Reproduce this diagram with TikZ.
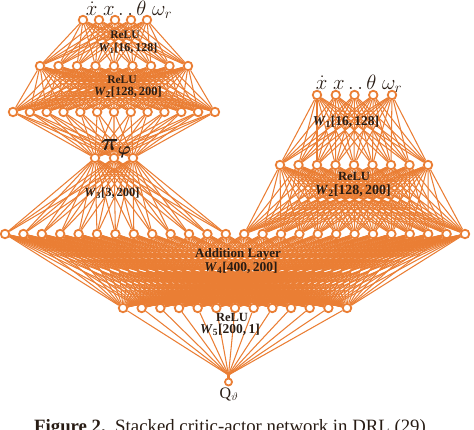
\documentclass[tikz,border=0pt]{standalone}
\usepackage{fontspec}
\setmainfont{Liberation Serif}
\usepackage{amsmath,bm}
\usetikzlibrary{backgrounds}
\definecolor{net}{RGB}{234,126,52}
\definecolor{ink}{RGB}{40,28,20}
\tikzset{
  neuron/.style={circle, draw=net, fill=white, line width=1.8pt, inner sep=0pt, minimum size=8.5pt},
  link/.style={draw=net, line width=1.05pt},
  lbl/.style={text=ink, inner sep=0pt},
}
\newcommand{\fs}[1]{\fontsize{#1}{#1}\selectfont}
\newcommand{\Wlab}[2]{\textbf{\textit{W}}$_{\mathbf{#1}}$\textbf{[#2]}}
\begin{document}
\begin{tikzpicture}[x=1pt,y=-1pt]
\useasboundingbox (0,0) rectangle (474,430);
% layers
\foreach \i in {1,...,5}  \node[neuron] (la\i) at ({83+(\i-1)*16},20) {};
\foreach \i in {1,...,9}  \node[neuron] (lb\i) at ({40+(\i-1)*18.5},66) {};
\foreach \i in {1,...,13} \node[neuron] (lc\i) at ({13+(\i-1)*16.83},112) {};
\foreach \i in {1,...,3}  \node[neuron] (lp\i) at ({95+(\i-1)*19},158) {};
\foreach \i in {1,...,26} \node[neuron] (ad\i) at ({5+(\i-1)*18.4},234) {};
\foreach \i in {1,...,5}  \node[neuron] (ra\i) at ({317+(\i-1)*18.75},95) {};
\foreach \i in {1,...,9}  \node[neuron] (rb\i) at ({280+(\i-1)*18.5},165) {};
\foreach \i in {1,...,13} \node[neuron] (le\i) at ({123+(\i-1)*18.67},308) {};
\node[neuron, minimum size=7pt] (out) at (228.5,382) {};
\coordinate (conv) at (228.5,375);
% connections
\begin{scope}[on background layer]
\foreach \i in {1,...,5} \foreach \j in {1,...,9} \draw[link] (la\i) -- (lb\j);
\foreach \i in {1,...,9} \foreach \j in {1,...,13} \draw[link] (lb\i) -- (lc\j);
\foreach \i in {1,...,13} \foreach \j in {1,...,3} \draw[link] (lc\i) -- (lp\j);
\foreach \i in {1,...,3} \foreach \j in {1,...,13} \draw[link] (lp\i) -- (ad\j);
\foreach \i in {1,...,5} \foreach \j in {1,...,9} \draw[link] (ra\i) -- (rb\j);
\foreach \i in {1,...,9} \foreach \j in {14,...,26} \draw[link] (rb\i) -- (ad\j);
\foreach \i in {1,...,26} \foreach \j in {1,...,13} \draw[link] (ad\i) -- (le\j);
\foreach \j in {1,...,13} \draw[link] (le\j) -- (conv);
\draw[draw=net, line width=2.5pt] (conv) -- (out);
\end{scope}
% labels
\node[lbl, font=\fs{21}] (inL) at (129,9.5) {$\dot{x}\;x\,.\,.\,\theta\;\omega_r$};
\node[lbl, font=\fs{11.5}] (r1) at (125,35) {\textbf{ReLU}};
\node[lbl, font=\fs{12}] (w1) at (128,48) {\Wlab{1}{16,\,128}};
\node[lbl, font=\fs{11.5}] (r2) at (122,80) {\textbf{ReLU}};
\node[lbl, font=\fs{12.5}] (w2) at (128,92) {\Wlab{2}{128,\,200}};
\node[lbl, font=\fs{23}] (pi) at (116,149) {$\bm{\pi}_{\bm{\varphi}}$};
\node[lbl, font=\fs{12.5}] (w3) at (112,193) {\Wlab{3}{3,\,200}};
\node[lbl, font=\fs{21}] (inR) at (359,84) {$\dot{x}\;x\,.\,.\,\theta\;\omega_r$};
\node[lbl, font=\fs{13.5}] (w1r) at (346,122) {\Wlab{1}{16,\,128}};
\node[lbl, font=\fs{12.5}] (r2r) at (354,176) {\textbf{ReLU}};
\node[lbl, font=\fs{14}] (w2r) at (353,191) {\Wlab{2}{128,\,200}};
\node[lbl, font=\fs{13}] (add) at (238,254) {\textbf{Addition Layer}};
\node[lbl, font=\fs{13.5}] (w4) at (241,268) {\Wlab{4}{400,\,200}};
\node[lbl, font=\fs{12.5}] (r5) at (232,317) {\textbf{ReLU}};
\node[lbl, font=\fs{13.5}] (w5) at (230,330) {\Wlab{5}{200,\,1}};
\node[lbl, font=\fs{16}] (q) at (229,394) {Q$_{\vartheta}$};
\node[text=ink, anchor=base, inner sep=0pt, font=\fs{18.8}] (cap) at (230,432) {\textbf{Figure 2.}\ \ Stacked critic-actor network in DRL (29)};
\end{tikzpicture}
\end{document}
